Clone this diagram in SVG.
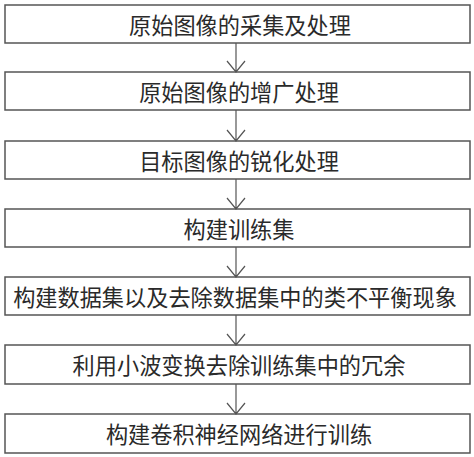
<svg xmlns="http://www.w3.org/2000/svg" width="474" height="457" viewBox="0 0 474 457">
<style>
.box{fill:#fff;stroke:#555;stroke-width:1.5}
.t{font-family:"Noto Sans CJK SC","Liberation Sans",sans-serif;font-size:22.2px;fill:#2a2a2a;text-anchor:middle;dominant-baseline:central}
.c{stroke:#555;stroke-width:1.2;fill:none}
</style>
<rect width="474" height="457" fill="#fff"/>
<g id="n1"><rect class="box" x="5" y="5" width="465" height="38"/><text class="t" x="240" y="24">原始图像的采集及处理</text></g>
<g id="n2"><rect class="box" x="5" y="72" width="465" height="38"/><text class="t" x="239" y="91">原始图像的增广处理</text></g>
<g id="n3"><rect class="box" x="5" y="141" width="465" height="38"/><text class="t" x="239" y="160">目标图像的锐化处理</text></g>
<g id="n4"><rect class="box" x="5" y="209" width="465" height="38"/><text class="t" x="239" y="228">构建训练集</text></g>
<g id="n5"><rect class="box" x="5" y="277" width="465" height="38"/><text class="t" x="235" y="296">构建数据集以及去除数据集中的类不平衡现象</text></g>
<g id="n6"><rect class="box" x="5" y="345" width="465" height="39"/><text class="t" x="239" y="364">利用小波变换去除训练集中的冗余</text></g>
<g id="n7"><rect class="box" x="5" y="414" width="465" height="39"/><text class="t" x="239" y="433">构建卷积神经网络进行训练</text></g>
<g id="connectors">
<path class="c" d="M236 43V72M227 61L236 72L245 61"/>
<path class="c" d="M236 110V141M227 130L236 141L245 130"/>
<path class="c" d="M236 179V209M227 198L236 209L245 198"/>
<path class="c" d="M236 247V277M227 266L236 277L245 266"/>
<path class="c" d="M236 315V345M227 334L236 345L245 334"/>
<path class="c" d="M236 384V414M227 403L236 414L245 403"/>
</g>
</svg>
